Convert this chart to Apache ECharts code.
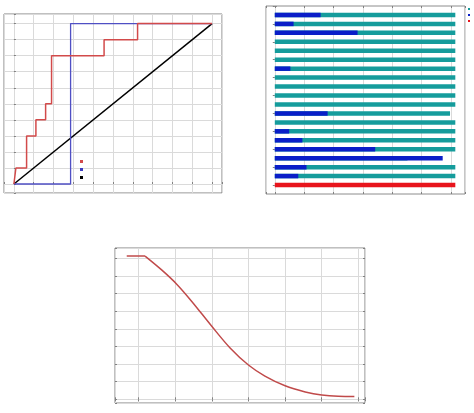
<!DOCTYPE html>
<html>
<head>
<meta charset="utf-8">
<script src="https://cdn.jsdelivr.net/npm/echarts@6/dist/echarts.min.js"></script>
<style>
html,body{margin:0;padding:0;background:#fff;}
#c{width:474px;height:413px;}
</style>
</head>
<body>
<div id="c"></div>
<script>
// ---- Panel 1: ROC-style curves ----
const rocRedX  = [0, 0.010, 0.064, 0.064, 0.111, 0.111, 0.160, 0.160, 0.190, 0.190, 0.455, 0.455, 0.624, 0.624, 1];
const rocRedY  = [0, 0.1,   0.1,   0.3,   0.3,   0.4,   0.4,   0.5,   0.5,   0.8,   0.8,   0.9,   0.9,   1,     1];
const rocBlueX = [0, 0.286, 0.286, 1];
const rocBlueY = [0, 0,     1,     1];
const diagX    = [0, 1];
const diagY    = [0, 1];

// ---- Panel 2: horizontal bars (rows top to bottom) ----
const barRows  = ['R1','R2','R3','R4','R5','R6','R7','R8','R9','R10','R11','R12','R13','R14','R15','R16','R17','R18','R19','R20'];
const tealVals = [6.15,6.15,6.15,6.15,6.15,6.15,6.15,6.15,6.15,6.15,6.15,5.97,6.15,6.15,6.15,6.15,4.52,6.15,6.15,null];
const blueVals = [1.56,0.64,2.82,null,null,null,0.53,null,null,null,null,1.80,null,0.49,0.94,3.42,5.72,1.08,0.80,null];
const redVals  = [null,null,null,null,null,null,null,null,null,null,null,null,null,null,null,null,null,null,null,6.15];

// ---- Panel 3: decreasing curve ----
const curveX = [0.68, 1.18, 1.64, 2.05, 2.46, 3.0, 3.5, 4.0, 4.45, 5.0, 5.55, 6.0, 6.45, 6.89];
const curveY = [8.14, 8.14, 7.34, 6.53, 5.55, 4.15, 2.92, 1.95, 1.32, 0.77, 0.42, 0.24, 0.17, 0.16];

const pairs = (xs, ys) => xs.map((x, i) => [x, ys[i]]);
const padded = arr => [null].concat(arr, [null]);
const rowCats = [''].concat(barRows, ['']);
const curvePts = pairs(curveX, curveY);

const gridCol = '#dadada';
const frameCol = '#808080';

function valAxis(gi, pos, min, max, step, split, tickShow) {
  return {
    type: 'value', gridIndex: gi, position: pos, min: min, max: max,
    minInterval: step, maxInterval: step, splitNumber: Math.round((max - min) / step),
    axisLine: {show: false},
    axisTick: {show: tickShow, inside: true, length: 2, lineStyle: {color: frameCol}},
    axisLabel: {show: false},
    splitLine: {show: split, lineStyle: {color: gridCol, width: 1}}
  };
}
function catAxis(gi, pos) {
  return {
    type: 'category', gridIndex: gi, position: pos, data: rowCats, inverse: true,
    boundaryGap: false,
    axisLine: {show: false},
    axisTick: {show: true, inside: true, length: 2, lineStyle: {color: frameCol}},
    axisLabel: {show: false},
    splitLine: {show: false}
  };
}

const chart = echarts.init(document.getElementById('c'), null, {renderer: 'canvas'});
chart.setOption({
  animation: false,
  backgroundColor: '#ffffff',
  grid: [
    {left: 4, top: 14, width: 218, height: 179, show: true, borderColor: frameCol, borderWidth: 1, backgroundColor: 'transparent'},
    {left: 266, top: 6, width: 199, height: 188, show: true, borderColor: '#8c8c8c', borderWidth: 1, backgroundColor: 'transparent'},
    {left: 115, top: 248, width: 250, height: 155, show: true, borderColor: frameCol, borderWidth: 1, backgroundColor: 'transparent'}
  ],
  xAxis: [
    valAxis(0, 'bottom', -0.05, 1.05, 0.1, true, true),
    valAxis(1, 'bottom', -0.3, 6.48, 1, true, true),
    valAxis(1, 'top', -0.3, 6.48, 1, false, true),
    valAxis(2, 'bottom', 0.36, 7.18, 1, true, true),
    valAxis(2, 'top', 0.36, 7.18, 1, false, true)
  ],
  yAxis: [
    valAxis(0, 'left', -0.056, 1.06, 0.1, true, true),
    catAxis(1, 'left'),
    catAxis(1, 'right'),
    valAxis(2, 'left', -0.21, 8.6, 1, true, true),
    valAxis(2, 'right', -0.21, 8.6, 1, false, true)
  ],
  legend: [
    {
      data: ['ROC red', 'ROC blue', 'Chance'],
      orient: 'vertical', left: 80, top: 160, itemWidth: 3, itemHeight: 3, itemGap: 5,
      icon: 'rect', formatter: () => '', padding: 0, selectedMode: false
    },
    {
      data: ['Teal', 'Blue', 'Red'],
      orient: 'vertical', left: 468, top: 8, itemWidth: 2, itemHeight: 2, itemGap: 4,
      icon: 'rect', formatter: () => '', padding: 0, selectedMode: false
    }
  ],
  series: [
    {name: 'ROC red', type: 'line', xAxisIndex: 0, yAxisIndex: 0, data: pairs(rocRedX, rocRedY),
     showSymbol: false, symbol: 'none', lineStyle: {color: '#d24a4a', width: 1.5}, itemStyle: {color: '#d24a4a'}, z: 4},
    {name: 'ROC blue', type: 'line', xAxisIndex: 0, yAxisIndex: 0, data: pairs(rocBlueX, rocBlueY),
     showSymbol: false, symbol: 'none', lineStyle: {color: '#4f4fc4', width: 1.3}, itemStyle: {color: '#3c3cc0'}, z: 3},
    {name: 'Chance', type: 'line', xAxisIndex: 0, yAxisIndex: 0, data: pairs(diagX, diagY),
     showSymbol: false, symbol: 'none', lineStyle: {color: '#000000', width: 1.5}, itemStyle: {color: '#000000'}, z: 2},

    {name: 'Teal', type: 'bar', xAxisIndex: 1, yAxisIndex: 1, data: padded(tealVals),
     barWidth: 4.5, barGap: '-100%', itemStyle: {color: '#159c9c'}},
    {name: 'Blue', type: 'bar', xAxisIndex: 1, yAxisIndex: 1, data: padded(blueVals),
     barWidth: 4.5, barGap: '-100%', itemStyle: {color: '#0a1ec8'}},
    {name: 'Red', type: 'bar', xAxisIndex: 1, yAxisIndex: 1, data: padded(redVals),
     barWidth: 4.5, barGap: '-100%', itemStyle: {color: '#e8141c'}},

    {name: 'Curve flat', type: 'line', xAxisIndex: 3, yAxisIndex: 3, data: curvePts.slice(0, 2),
     showSymbol: false, symbol: 'none', lineStyle: {color: '#c04a4a', width: 1.5}},
    {name: 'Curve', type: 'line', xAxisIndex: 3, yAxisIndex: 3, data: curvePts.slice(1),
     showSymbol: false, symbol: 'none', smooth: 0.35,
     lineStyle: {color: '#c04a4a', width: 1.5}}
  ]
});
</script>
</body>
</html>
